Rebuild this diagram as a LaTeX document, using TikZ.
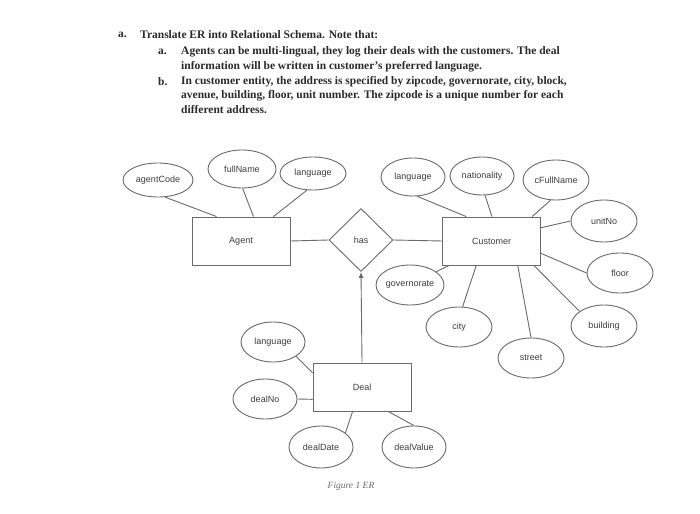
\documentclass[tikz,border=0pt]{standalone}
\usepackage{fontspec}
\setmainfont{Liberation Serif}
\setsansfont{Liberation Sans}
\usetikzlibrary{shapes.geometric,arrows.meta}
\definecolor{ln}{HTML}{6A6A6A}
\definecolor{tx}{HTML}{3C3C3C}
\definecolor{hd}{HTML}{2A2A2A}
\tikzset{
  attr/.style={ellipse,draw=ln,line width=0.9pt,inner sep=0pt,font=\sffamily\fontsize{9}{10}\selectfont,text=tx},
  ent/.style={rectangle,draw=ln,line width=0.9pt,minimum width=98pt,minimum height=48pt,inner sep=0pt,font=\sffamily\fontsize{9}{10}\selectfont,text=tx},
  rel/.style={diamond,draw=ln,line width=0.9pt,minimum width=64pt,minimum height=63pt,inner sep=0pt,font=\sffamily\fontsize{9}{10}\selectfont,text=tx},
  con/.style={draw=ln,line width=0.9pt},
  hdr/.style={anchor=west,inner sep=0pt,font=\bfseries\fontsize{11.5}{13}\selectfont,text=hd},
}
\begin{document}
\begin{tikzpicture}[x=1pt,y=-1pt]
\useasboundingbox (0,0) rectangle (700,513);
\fill[white] (0,0) rectangle (700,513);
% header
\node[hdr] (h0a) at (118,35) {a.};
\node[hdr] (h0) at (140,35) {Translate ER into Relational Schema. Note that:};
\node[hdr] (h1a) at (158,52) {a.};
\node[hdr] (h1) at (181,52) {Agents can be multi-lingual, they log their deals with the customers. The deal};
\node[hdr] (h2) at (181,67) {information will be written in customer's preferred language.};
\node[hdr] (h3a) at (158,82) {b.};
\node[hdr] (h3) at (181,82) {In customer entity, the address is specified by zipcode, governorate, city, block,};
\node[hdr] (h4) at (181,96) {avenue, building, floor, unit number. The zipcode is a unique number for each};
\node[hdr] (h5) at (181,110) {different address.};
% entities
\node[ent] (agent) at (241,241) {Agent};
\node[ent] (cust) at (491.5,241) {Customer};
\node[ent] (deal) at (362,387) {Deal};
\node[rel] (has) at (361,240) {has};
% agent attributes
\node[attr,minimum width=70pt,minimum height=34pt] (agentCode) at (158,180) {agentCode};
\node[attr,minimum width=68pt,minimum height=38pt] (fullName) at (242,169) {fullName};
\node[attr,minimum width=66pt,minimum height=33pt] (alang) at (313,173.5) {language};
% customer attributes
\node[attr,minimum width=64pt,minimum height=38pt] (clang) at (413,177) {language};
\node[attr,minimum width=64pt,minimum height=38pt] (nation) at (482,176) {nationality};
\node[attr,minimum width=66pt,minimum height=40pt] (cFullName) at (556,180) {cFullName};
\node[attr,minimum width=66pt,minimum height=42pt] (unitNo) at (604,221) {unitNo};
\node[attr,minimum width=66pt,minimum height=40pt] (floor) at (620,273) {floor};
\node[attr,minimum width=64pt,minimum height=40pt] (gov) at (410,285) {governorate};
\node[attr,minimum width=66pt,minimum height=40pt] (city) at (459,327) {city};
\node[attr,minimum width=66pt,minimum height=40pt] (street) at (531,358) {street};
\node[attr,minimum width=66pt,minimum height=42pt] (building) at (604,326) {building};
% deal attributes
\node[attr,minimum width=64pt,minimum height=40pt] (dlang) at (273,342) {language};
\node[attr,minimum width=64pt,minimum height=40pt] (dealNo) at (265,399) {dealNo};
\node[attr,minimum width=64pt,minimum height=42pt] (dealDate) at (321,447) {dealDate};
\node[attr,minimum width=64pt,minimum height=42pt] (dealValue) at (414,447) {dealValue};
% caption
\node[inner sep=0pt,font=\itshape\fontsize{9.5}{11}\selectfont,text=ln] (cap) at (351,486) {Figure 1 ER};
% connectors
\draw[con] (agentCode.-68) -- (agent.135);
\draw[con] (fullName.-88) -- (agent.63);
\draw[con] (alang.-110) -- (agent.37);
\draw[con] (agent.east) -- (has.west);
\draw[con] (has.east) -- (cust.west);
\draw[con] (clang.-78) -- (cust.136);
\draw[con] (nation.-81) -- (cust.89);
\draw[con] (cFullName.-105) -- (cust.31);
\draw[con] (unitNo.west) -- (cust.15);
\draw[con] (floor.west) -- (cust.-14);
\draw[con] (building.149) -- (cust.-30);
\draw[con] (street.north) -- (cust.-43);
\draw[con] (city.80) -- (cust.-122);
\draw[con] (gov.27) -- (cust.-150);
\draw[con,-{Latex[length=6pt,width=5pt]}] (deal.north) -- (has.south);
\draw[con] (dlang.-32) -- (deal.164);
\draw[con] (dealNo.east) -- (deal.194);
\draw[con] (dealDate.30) -- (deal.-111);
\draw[con] (dealValue.north) -- (deal.-43);
\end{tikzpicture}
\end{document}
